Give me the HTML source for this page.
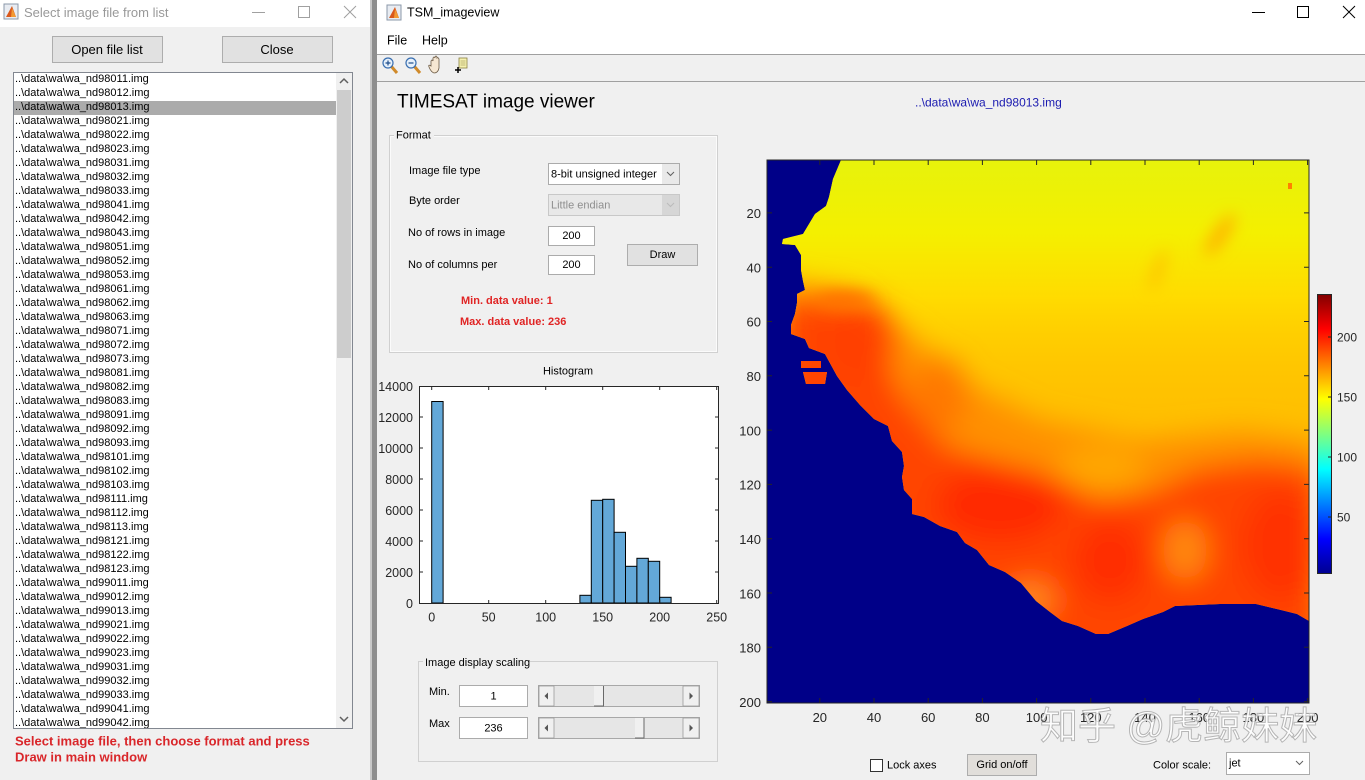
<!DOCTYPE html>
<html>
<head>
<meta charset="utf-8">
<style>
html,body{margin:0;padding:0;width:1365px;height:780px;overflow:hidden;background:#F0F0F0;}
svg{display:block;}
text{font-family:"Liberation Sans",Arial,sans-serif;}
</style>
</head>
<body>
<svg width="1365" height="780" viewBox="0 0 1365 780" xmlns="http://www.w3.org/2000/svg">
<defs>
  <clipPath id="land">
    <polygon points="841,160 833,179 829,197 826,206 815,214 809,224 803,234 783,239 782,244 795,245 801,255 801,270 803,281 805,290 797,294 797,303 795,314 791,325 791,334 805,339 809,348 825,354 831,365 837,376 847,390 860,405 874,419 888,426 892,441 902,452 904,466 902,477 904,490 912,499 912,514 924,517 940,526 957,532 965,543 977,550 989,565 1005,572 1021,583 1036,601 1050,612 1062,621 1078,626 1096,634 1108,634 1127,626 1143,619 1163,612 1175,606 1220,604 1256,604 1281,610 1297,614 1309,621 1309,160"/>
    <polygon points="801,361 821,361 821,368 801,368"/>
    <polygon points="803,372 827,372 825,384 806,384"/>
  </clipPath>
  <clipPath id="axclip"><rect x="767" y="160" width="542" height="543"/></clipPath>
  <filter id="blur" x="-20%" y="-20%" width="140%" height="140%"><feGaussianBlur stdDeviation="14"/></filter>
  <filter id="blur2" x="-30%" y="-30%" width="160%" height="160%"><feGaussianBlur stdDeviation="8"/></filter>
  <linearGradient id="topg" x1="0" y1="0" x2="0" y2="1">
    <stop offset="0" stop-color="#E6F20C" stop-opacity="1"/>
    <stop offset="0.3" stop-color="#F4F000" stop-opacity="1"/>
    <stop offset="0.55" stop-color="#FFE000" stop-opacity="0.85"/>
    <stop offset="1" stop-color="#FFC800" stop-opacity="0"/>
  </linearGradient>
  <linearGradient id="jet" x1="0" y1="1" x2="0" y2="0">
    <stop offset="0" stop-color="#00008F"/>
    <stop offset="0.125" stop-color="#0000FF"/>
    <stop offset="0.375" stop-color="#00FFFF"/>
    <stop offset="0.625" stop-color="#FFFF00"/>
    <stop offset="0.875" stop-color="#FF0000"/>
    <stop offset="1" stop-color="#800000"/>
  </linearGradient>
</defs>

<!-- ============ LEFT WINDOW ============ -->
<rect x="0" y="0" width="372" height="780" fill="#F0F0F0"/>
<rect x="0" y="0" width="372" height="27" fill="#FFFFFF"/>
<rect x="4" y="4" width="14" height="15" fill="#E8ECF2" stroke="#8B98AA" stroke-width="1"/>
<polygon points="6,17 12,6 16,17" fill="#D9581C"/>
<polygon points="11,17 12,8 16,17" fill="#F29A33"/>
<text x="24" y="12.5" font-size="13" fill="#999999" dominant-baseline="central">Select image file from list</text>
<line x1="252" y1="12.5" x2="265" y2="12.5" stroke="#A0A0A0" stroke-width="1"/>
<rect x="298.5" y="6.5" width="11" height="11" fill="none" stroke="#A0A0A0"/>
<path d="M344,6 L356,18 M356,6 L344,18" stroke="#A0A0A0" stroke-width="1"/>

<rect x="52.5" y="36.5" width="110" height="26" fill="#E1E1E1" stroke="#ADADAD"/>
<text x="107" y="49.5" font-size="13" fill="#000" text-anchor="middle" dominant-baseline="central">Open file list</text>
<rect x="222.5" y="36.5" width="110" height="26" fill="#E1E1E1" stroke="#ADADAD"/>
<text x="277" y="49.5" font-size="13" fill="#000" text-anchor="middle" dominant-baseline="central">Close</text>

<rect x="13.5" y="72.5" width="339" height="656" fill="#FFFFFF" stroke="#828790"/>
<rect x="14" y="101" width="322" height="14" fill="#ABABAB"/>
<g font-size="11" fill="#000">
<text x="15" y="79" dominant-baseline="central">..\data\wa\wa_nd98011.img</text>
<text x="15" y="93" dominant-baseline="central">..\data\wa\wa_nd98012.img</text>
<text x="15" y="107" dominant-baseline="central">..\data\wa\wa_nd98013.img</text>
<text x="15" y="121" dominant-baseline="central">..\data\wa\wa_nd98021.img</text>
<text x="15" y="135" dominant-baseline="central">..\data\wa\wa_nd98022.img</text>
<text x="15" y="149" dominant-baseline="central">..\data\wa\wa_nd98023.img</text>
<text x="15" y="163" dominant-baseline="central">..\data\wa\wa_nd98031.img</text>
<text x="15" y="177" dominant-baseline="central">..\data\wa\wa_nd98032.img</text>
<text x="15" y="191" dominant-baseline="central">..\data\wa\wa_nd98033.img</text>
<text x="15" y="205" dominant-baseline="central">..\data\wa\wa_nd98041.img</text>
<text x="15" y="219" dominant-baseline="central">..\data\wa\wa_nd98042.img</text>
<text x="15" y="233" dominant-baseline="central">..\data\wa\wa_nd98043.img</text>
<text x="15" y="247" dominant-baseline="central">..\data\wa\wa_nd98051.img</text>
<text x="15" y="261" dominant-baseline="central">..\data\wa\wa_nd98052.img</text>
<text x="15" y="275" dominant-baseline="central">..\data\wa\wa_nd98053.img</text>
<text x="15" y="289" dominant-baseline="central">..\data\wa\wa_nd98061.img</text>
<text x="15" y="303" dominant-baseline="central">..\data\wa\wa_nd98062.img</text>
<text x="15" y="317" dominant-baseline="central">..\data\wa\wa_nd98063.img</text>
<text x="15" y="331" dominant-baseline="central">..\data\wa\wa_nd98071.img</text>
<text x="15" y="345" dominant-baseline="central">..\data\wa\wa_nd98072.img</text>
<text x="15" y="359" dominant-baseline="central">..\data\wa\wa_nd98073.img</text>
<text x="15" y="373" dominant-baseline="central">..\data\wa\wa_nd98081.img</text>
<text x="15" y="387" dominant-baseline="central">..\data\wa\wa_nd98082.img</text>
<text x="15" y="401" dominant-baseline="central">..\data\wa\wa_nd98083.img</text>
<text x="15" y="415" dominant-baseline="central">..\data\wa\wa_nd98091.img</text>
<text x="15" y="429" dominant-baseline="central">..\data\wa\wa_nd98092.img</text>
<text x="15" y="443" dominant-baseline="central">..\data\wa\wa_nd98093.img</text>
<text x="15" y="457" dominant-baseline="central">..\data\wa\wa_nd98101.img</text>
<text x="15" y="471" dominant-baseline="central">..\data\wa\wa_nd98102.img</text>
<text x="15" y="485" dominant-baseline="central">..\data\wa\wa_nd98103.img</text>
<text x="15" y="499" dominant-baseline="central">..\data\wa\wa_nd98111.img</text>
<text x="15" y="513" dominant-baseline="central">..\data\wa\wa_nd98112.img</text>
<text x="15" y="527" dominant-baseline="central">..\data\wa\wa_nd98113.img</text>
<text x="15" y="541" dominant-baseline="central">..\data\wa\wa_nd98121.img</text>
<text x="15" y="555" dominant-baseline="central">..\data\wa\wa_nd98122.img</text>
<text x="15" y="569" dominant-baseline="central">..\data\wa\wa_nd98123.img</text>
<text x="15" y="583" dominant-baseline="central">..\data\wa\wa_nd99011.img</text>
<text x="15" y="597" dominant-baseline="central">..\data\wa\wa_nd99012.img</text>
<text x="15" y="611" dominant-baseline="central">..\data\wa\wa_nd99013.img</text>
<text x="15" y="625" dominant-baseline="central">..\data\wa\wa_nd99021.img</text>
<text x="15" y="639" dominant-baseline="central">..\data\wa\wa_nd99022.img</text>
<text x="15" y="653" dominant-baseline="central">..\data\wa\wa_nd99023.img</text>
<text x="15" y="667" dominant-baseline="central">..\data\wa\wa_nd99031.img</text>
<text x="15" y="681" dominant-baseline="central">..\data\wa\wa_nd99032.img</text>
<text x="15" y="695" dominant-baseline="central">..\data\wa\wa_nd99033.img</text>
<text x="15" y="709" dominant-baseline="central">..\data\wa\wa_nd99041.img</text>
<text x="15" y="723" dominant-baseline="central">..\data\wa\wa_nd99042.img</text>
</g>
<rect x="14" y="728" width="338" height="1" fill="#828790"/>
<rect x="336" y="73" width="16" height="655" fill="#F0F0F0"/>
<rect x="337" y="90" width="14" height="268" fill="#CDCDCD"/>
<path d="M340,83 L344,79 L348,83" fill="none" stroke="#606060" stroke-width="1.5"/>
<path d="M340,717 L344,721 L348,717" fill="none" stroke="#606060" stroke-width="1.5"/>

<text x="15" y="741" font-size="13" font-weight="bold" fill="#D9262A" dominant-baseline="central">Select image file, then choose format and press</text>
<text x="15" y="757" font-size="13" font-weight="bold" fill="#D9262A" dominant-baseline="central">Draw in main window</text>

<rect x="370" y="0" width="2" height="780" fill="#C8C8C8"/>
<rect x="372" y="0" width="5" height="780" fill="#8E8E8E"/>

<!-- ============ MAIN WINDOW ============ -->
<rect x="377" y="0" width="988" height="54" fill="#FFFFFF"/>
<rect x="377" y="54" width="988" height="1" fill="#A0A0A0"/>
<rect x="377" y="55" width="988" height="26" fill="#F0F0F0"/>
<rect x="377" y="81" width="988" height="1" fill="#A0A0A0"/>

<rect x="387" y="5" width="14" height="15" fill="#E8ECF2" stroke="#8B98AA" stroke-width="1"/>
<polygon points="389,18 395,7 399,18" fill="#D9581C"/>
<polygon points="394,18 395,9 399,18" fill="#F29A33"/>
<text x="407" y="12.5" font-size="12.5" fill="#000" dominant-baseline="central">TSM_imageview</text>
<line x1="1252" y1="12.5" x2="1265" y2="12.5" stroke="#000" stroke-width="1"/>
<rect x="1297.5" y="6.5" width="11" height="11" fill="none" stroke="#000"/>
<path d="M1343,6 L1355,18 M1355,6 L1343,18" stroke="#000" stroke-width="1"/>

<text x="387" y="40.5" font-size="12.5" fill="#000" dominant-baseline="central">File</text>
<text x="422" y="40.5" font-size="12.5" fill="#000" dominant-baseline="central">Help</text>

<g>
  <line x1="391" y1="66" x2="397" y2="73" stroke="#D08A2A" stroke-width="3"/>
  <circle cx="388" cy="63" r="5" fill="#E6F0FA" stroke="#3A6FB0" stroke-width="1.2"/>
  <path d="M385.5,63 H390.5 M388,60.5 V65.5" stroke="#1E4E8C" stroke-width="1.2"/>
  <line x1="414" y1="66" x2="420" y2="73" stroke="#D08A2A" stroke-width="3"/>
  <circle cx="411" cy="63" r="5" fill="#E6F0FA" stroke="#3A6FB0" stroke-width="1.2"/>
  <path d="M408.5,63 H413.5" stroke="#1E4E8C" stroke-width="1.2"/>
  <path d="M431,66 L431,61 Q432,59 433,61 L433,58 Q434,56 435,58 L435,57 Q436,55 437,57 L437,58 Q438,57 439,59 L439,68 Q438,73 434,73 Q431,72 429,67 Q428,64 431,66 Z" fill="#F6E7D2" stroke="#6B5A45" stroke-width="0.8"/>
  <rect x="459" y="58" width="8" height="10" fill="#F5F1B0" stroke="#8A8040" stroke-width="0.8"/>
  <path d="M460.5,61 H465.5 M460.5,63 H465.5 M460.5,65 H465.5" stroke="#8A8040" stroke-width="0.6"/>
  <path d="M455,70 H461 M458,67 V73" stroke="#000" stroke-width="1.5"/>
</g>

<text x="397" y="102" font-size="19" fill="#000" dominant-baseline="central">TIMESAT image viewer</text>
<text x="915" y="102.5" font-size="12" fill="#1A1AB0" dominant-baseline="central">..\data\wa\wa_nd98013.img</text>

<!-- Format panel -->
<rect x="389.5" y="135.5" width="328" height="217" fill="none" stroke="#D0D0D0"/>
<rect x="390.5" y="136.5" width="326" height="215" fill="none" stroke="#FFFFFF" stroke-opacity="0.7"/>
<rect x="394" y="129" width="40" height="12" fill="#F0F0F0"/>
<text x="396" y="135.5" font-size="11" fill="#000" dominant-baseline="central">Format</text>

<g font-size="11" fill="#000">
<text x="409" y="171" dominant-baseline="central">Image file type</text>
<text x="409" y="201" dominant-baseline="central">Byte order</text>
<text x="408" y="233" dominant-baseline="central">No of rows in image</text>
<text x="408" y="265" dominant-baseline="central">No of columns per</text>
</g>
<rect x="548.5" y="163.5" width="131" height="21" fill="#FFFFFF" stroke="#ABABAB"/>
<rect x="662" y="164" width="17" height="20" fill="#E9E9E9"/>
<text x="551" y="174.5" font-size="11" fill="#000" dominant-baseline="central">8-bit unsigned integer</text>
<path d="M667,172 L670.5,175.5 L674,172" fill="none" stroke="#606060" stroke-width="1"/>
<rect x="548.5" y="194.5" width="131" height="21" fill="#E8E8E8" stroke="#C8C8C8"/>
<rect x="662" y="195" width="17" height="20" fill="#D6D6D6"/>
<text x="551" y="205.5" font-size="11" fill="#8E8E8E" dominant-baseline="central">Little endian</text>
<path d="M667,203 L670.5,206.5 L674,203" fill="none" stroke="#BBBBBB" stroke-width="1"/>
<rect x="548.5" y="226.5" width="46" height="19" fill="#FFFFFF" stroke="#ABABAB"/>
<text x="571.5" y="236" font-size="11" fill="#000" text-anchor="middle" dominant-baseline="central">200</text>
<rect x="548.5" y="255.5" width="46" height="19" fill="#FFFFFF" stroke="#ABABAB"/>
<text x="571.5" y="265" font-size="11" fill="#000" text-anchor="middle" dominant-baseline="central">200</text>
<rect x="627.5" y="244.5" width="70" height="21" fill="#E1E1E1" stroke="#ADADAD"/>
<text x="662.5" y="255" font-size="11" fill="#000" text-anchor="middle" dominant-baseline="central">Draw</text>

<text x="461" y="301" font-size="11" font-weight="bold" fill="#E02424" dominant-baseline="central">Min. data value: 1</text>
<text x="460" y="322" font-size="11" font-weight="bold" fill="#E02424" dominant-baseline="central">Max. data value: 236</text>

<!-- Histogram -->
<text x="568" y="371.5" font-size="11" fill="#000" text-anchor="middle" dominant-baseline="central">Histogram</text>
<rect x="419.5" y="386.5" width="299" height="217" fill="#FFFFFF"/>
<g fill="#63A8D8" stroke="#000" stroke-width="1">
  <rect x="431.7" y="401.5" width="11.4" height="201.5"/>
  <rect x="579.9" y="595.3" width="11.4" height="7.7"/>
  <rect x="591.3" y="500.3" width="11.4" height="102.7"/>
  <rect x="602.7" y="499.3" width="11.4" height="103.7"/>
  <rect x="614.1" y="532.3" width="11.4" height="70.7"/>
  <rect x="625.5" y="566.3" width="11.4" height="36.7"/>
  <rect x="636.9" y="558.3" width="11.4" height="44.7"/>
  <rect x="648.3" y="561.3" width="11.4" height="41.7"/>
  <rect x="659.7" y="597.3" width="11.4" height="5.7"/>
</g>
<rect x="419.5" y="386.5" width="299" height="217" fill="none" stroke="#262626" stroke-width="1"/>
<g stroke="#262626" stroke-width="1">
  <path d="M431.7,603 v-3 M488.7,603 v-3 M545.7,603 v-3 M602.7,603 v-3 M659.7,603 v-3 M716.7,603 v-3"/>
  <path d="M431.7,387 v3 M488.7,387 v3 M545.7,387 v3 M602.7,387 v3 M659.7,387 v3 M716.7,387 v3"/>
  <path d="M420,572 h3 M420,541 h3 M420,510 h3 M420,479 h3 M420,448 h3 M420,417 h3"/>
  <path d="M718,572 h-3 M718,541 h-3 M718,510 h-3 M718,479 h-3 M718,448 h-3 M718,417 h-3"/>
</g>
<g font-size="12.5" fill="#262626" text-anchor="end">
  <text x="413" y="604" dominant-baseline="central">0</text>
  <text x="413" y="573" dominant-baseline="central">2000</text>
  <text x="413" y="542" dominant-baseline="central">4000</text>
  <text x="413" y="511" dominant-baseline="central">6000</text>
  <text x="413" y="480" dominant-baseline="central">8000</text>
  <text x="413" y="449" dominant-baseline="central">10000</text>
  <text x="413" y="418" dominant-baseline="central">12000</text>
  <text x="413" y="387" dominant-baseline="central">14000</text>
</g>
<g font-size="12.5" fill="#262626" text-anchor="middle">
  <text x="431.7" y="617.5" dominant-baseline="central">0</text>
  <text x="488.7" y="617.5" dominant-baseline="central">50</text>
  <text x="545.7" y="617.5" dominant-baseline="central">100</text>
  <text x="602.7" y="617.5" dominant-baseline="central">150</text>
  <text x="659.7" y="617.5" dominant-baseline="central">200</text>
  <text x="716.7" y="617.5" dominant-baseline="central">250</text>
</g>

<!-- Image display scaling panel -->
<rect x="418.5" y="661.5" width="299" height="100" fill="none" stroke="#D0D0D0"/>
<rect x="423" y="656" width="107" height="12" fill="#F0F0F0"/>
<text x="425" y="663" font-size="11" fill="#000" dominant-baseline="central">Image display scaling</text>
<text x="429" y="692" font-size="11" fill="#000" dominant-baseline="central">Min.</text>
<text x="429" y="724" font-size="11" fill="#000" dominant-baseline="central">Max</text>
<rect x="459.5" y="685.5" width="68" height="21" fill="#FFFFFF" stroke="#ABABAB"/>
<text x="493.5" y="696.5" font-size="11" fill="#000" text-anchor="middle" dominant-baseline="central">1</text>
<rect x="459.5" y="717.5" width="68" height="21" fill="#FFFFFF" stroke="#ABABAB"/>
<text x="493.5" y="728.5" font-size="11" fill="#000" text-anchor="middle" dominant-baseline="central">236</text>
<rect x="538.5" y="685.5" width="161" height="21" fill="#E6E6E6" stroke="#A8A8A8"/>
<rect x="539" y="686" width="15" height="20" fill="#F0F0F0" stroke="#9A9A9A" stroke-width="0.8"/>
<rect x="683" y="686" width="16" height="20" fill="#F0F0F0" stroke="#9A9A9A" stroke-width="0.8"/>
<polygon points="548,692.5 544.5,696 548,699.5" fill="#555"/>
<polygon points="689.5,692.5 693,696 689.5,699.5" fill="#555"/>
<rect x="594" y="686" width="10" height="20" fill="#F0F0F0"/>
<path d="M603.5,686 V706 H594" fill="none" stroke="#696969" stroke-width="1"/>
<rect x="538.5" y="717.5" width="161" height="21" fill="#E6E6E6" stroke="#A8A8A8"/>
<rect x="539" y="718" width="15" height="20" fill="#F0F0F0" stroke="#9A9A9A" stroke-width="0.8"/>
<rect x="683" y="718" width="16" height="20" fill="#F0F0F0" stroke="#9A9A9A" stroke-width="0.8"/>
<polygon points="548,724.5 544.5,728 548,731.5" fill="#555"/>
<polygon points="689.5,724.5 693,728 689.5,731.5" fill="#555"/>
<rect x="635" y="718" width="9" height="20" fill="#F0F0F0"/>
<path d="M644,718 V738 H635" fill="none" stroke="#696969" stroke-width="1"/>

<!-- ============ MAP ============ -->
<rect x="767" y="160" width="542" height="543" fill="#000088"/>
<g clip-path="url(#axclip)">
<g clip-path="url(#land)">
  <rect x="760" y="155" width="560" height="560" fill="#FFC000"/>
  <rect x="760" y="155" width="560" height="260" fill="url(#topg)"/>
  <g filter="url(#blur)">
    <polygon points="780,280 850,292 905,330 960,380 1040,420 1140,440 1240,430 1320,440 1320,720 780,720" fill="#FF9000"/>
    <polygon points="780,298 845,302 880,342 905,400 945,445 1000,462 1060,478 1100,500 1150,492 1200,468 1260,460 1320,468 1320,720 780,720" fill="#FF4400"/>
    <ellipse cx="1000" cy="505" rx="65" ry="38" fill="#FF2A00"/>
    <ellipse cx="1110" cy="560" rx="38" ry="42" fill="#FF2E00"/>
    <ellipse cx="1280" cy="545" rx="38" ry="55" fill="#FF3000"/>
    <ellipse cx="860" cy="340" rx="35" ry="40" fill="#FF4000"/>
    <ellipse cx="1185" cy="550" rx="22" ry="30" fill="#FF8A10"/>
    <ellipse cx="1030" cy="600" rx="25" ry="18" fill="#FF8C20"/>
    <ellipse cx="940" cy="395" rx="28" ry="38" fill="#FF7800"/>
    <ellipse cx="1100" cy="468" rx="45" ry="20" fill="#FFA800"/>
  </g>
  <g filter="url(#blur2)">
    <ellipse cx="1220" cy="235" rx="7" ry="25" fill="#FFB000" transform="rotate(35 1220 235)"/>
    <ellipse cx="1158" cy="270" rx="4" ry="22" fill="#FFB800" transform="rotate(20 1158 270)"/>
    <ellipse cx="845" cy="300" rx="30" ry="8" fill="#FF7000"/>
  </g>
  <rect x="1288" y="183" width="4" height="6" fill="#FF8000"/>
</g>
</g>
<rect x="767" y="160" width="542" height="543" fill="none" stroke="#262626" stroke-width="1"/>
<g stroke="#262626" stroke-width="1">
  <path d="M767,212.9 h5 M767,267.2 h5 M767,321.5 h5 M767,375.8 h5 M767,430.1 h5 M767,484.4 h5 M767,538.7 h5 M767,593 h5 M767,647.3 h5 M767,701.6 h5"/>
  <path d="M1309,212.9 h-5 M1309,267.2 h-5 M1309,321.5 h-5 M1309,375.8 h-5 M1309,430.1 h-5 M1309,484.4 h-5 M1309,538.7 h-5 M1309,593 h-5 M1309,647.3 h-5 M1309,701.6 h-5"/>
  <path d="M819.8,160 v5 M874,160 v5 M928.2,160 v5 M982.4,160 v5 M1036.6,160 v5 M1090.8,160 v5 M1145,160 v5 M1199.2,160 v5 M1253.4,160 v5 M1307.6,160 v5"/>
  <path d="M819.8,703 v-5 M874,703 v-5 M928.2,703 v-5 M982.4,703 v-5 M1036.6,703 v-5 M1090.8,703 v-5 M1145,703 v-5 M1199.2,703 v-5 M1253.4,703 v-5 M1307.6,703 v-5"/>
</g>
<g font-size="13" fill="#262626" text-anchor="end">
  <text x="761" y="213.5" dominant-baseline="central">20</text>
  <text x="761" y="268" dominant-baseline="central">40</text>
  <text x="761" y="322" dominant-baseline="central">60</text>
  <text x="761" y="376.5" dominant-baseline="central">80</text>
  <text x="761" y="431" dominant-baseline="central">100</text>
  <text x="761" y="485" dominant-baseline="central">120</text>
  <text x="761" y="539.5" dominant-baseline="central">140</text>
  <text x="761" y="594" dominant-baseline="central">160</text>
  <text x="761" y="648" dominant-baseline="central">180</text>
  <text x="761" y="702.5" dominant-baseline="central">200</text>
</g>
<g font-size="13" fill="#262626" text-anchor="middle">
  <text x="819.8" y="717.5" dominant-baseline="central">20</text>
  <text x="874" y="717.5" dominant-baseline="central">40</text>
  <text x="928.2" y="717.5" dominant-baseline="central">60</text>
  <text x="982.4" y="717.5" dominant-baseline="central">80</text>
  <text x="1036.6" y="717.5" dominant-baseline="central">100</text>
  <text x="1090.8" y="717.5" dominant-baseline="central">120</text>
  <text x="1145" y="717.5" dominant-baseline="central">140</text>
  <text x="1199.2" y="717.5" dominant-baseline="central">160</text>
  <text x="1253.4" y="717.5" dominant-baseline="central">180</text>
  <text x="1307.6" y="717.5" dominant-baseline="central">200</text>
</g>

<!-- colorbar -->
<rect x="1317" y="294" width="15" height="280" fill="url(#jet)"/>
<rect x="1317.5" y="294.5" width="14" height="279" fill="none" stroke="#262626" stroke-width="1"/>
<g stroke="#262626" stroke-width="1">
  <path d="M1331,337 h-3 M1331,397 h-3 M1331,457 h-3 M1331,517 h-3"/>
</g>
<g font-size="12" fill="#262626">
  <text x="1337" y="337.5" dominant-baseline="central">200</text>
  <text x="1337" y="397.5" dominant-baseline="central">150</text>
  <text x="1337" y="457.5" dominant-baseline="central">100</text>
  <text x="1337" y="517.5" dominant-baseline="central">50</text>
</g>

<!-- bottom controls -->
<rect x="870.5" y="759.5" width="12" height="12" fill="#FFFFFF" stroke="#333333"/>
<text x="887" y="765.5" font-size="11" fill="#000" dominant-baseline="central">Lock axes</text>
<rect x="967.5" y="754.5" width="69" height="21" fill="#E1DEDA" stroke="#ADADAD"/>
<text x="1002" y="765" font-size="11" fill="#000" text-anchor="middle" dominant-baseline="central">Grid on/off</text>
<text x="1153" y="765.5" font-size="11" fill="#000" dominant-baseline="central">Color scale:</text>
<rect x="1226.5" y="752.5" width="83" height="22" fill="#FFFFFF" stroke="#ABABAB"/>
<text x="1229" y="763.5" font-size="11" fill="#000" dominant-baseline="central">jet</text>
<path d="M1296,761 L1299.5,764.5 L1303,761" fill="none" stroke="#606060" stroke-width="1"/>

<!-- watermark -->
<text x="1040" y="739" font-size="38" fill="#FFFFFF" fill-opacity="0.85" stroke="#9A9A9A" stroke-width="1" stroke-opacity="0.7" font-family="'Liberation Sans','Noto Sans CJK SC',sans-serif">知乎 @虎鲸妹妹</text>
</svg>
</body>
</html>
